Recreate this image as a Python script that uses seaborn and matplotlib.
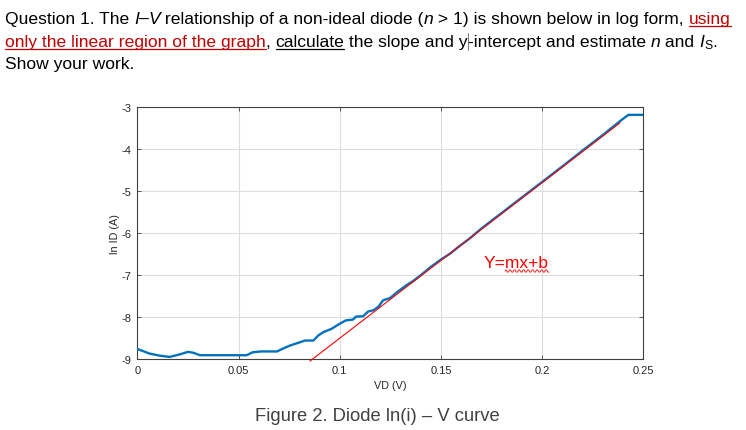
import matplotlib
matplotlib.use("Agg")
import matplotlib.pyplot as plt
from matplotlib.lines import Line2D
import seaborn as sns
import numpy as np
import pandas as pd

# ---------------- data ----------------
vd = [0.0, 0.006, 0.011, 0.016, 0.021, 0.025, 0.0276, 0.031, 0.054, 0.057,
      0.061, 0.069, 0.073, 0.0754, 0.0804, 0.0828, 0.087, 0.0894, 0.0919, 0.096,
      0.100, 0.103, 0.1066, 0.108, 0.1116, 0.114, 0.1165, 0.119, 0.1215, 0.1248,
      0.128, 0.133, 0.136, 0.1396, 0.1446, 0.150, 0.1545, 0.1586, 0.1644, 0.170,
      0.180, 0.190, 0.200, 0.210, 0.220, 0.230, 0.2385, 0.2426, 0.250]
ln_id = [-8.76, -8.87, -8.92, -8.95, -8.89, -8.83, -8.85, -8.91, -8.91, -8.84,
         -8.82, -8.82, -8.73, -8.68, -8.60, -8.56, -8.56, -8.44, -8.36, -8.28,
         -8.16, -8.08, -8.06, -7.99, -7.98, -7.87, -7.84, -7.76, -7.60, -7.55,
         -7.42, -7.24, -7.15, -7.02, -6.82, -6.63, -6.49, -6.33, -6.12, -5.89,
         -5.52, -5.15, -4.78, -4.41, -4.03, -3.66, -3.33, -3.18, -3.18]
fit_v = [0.0853, 0.2385]
fit_ln = [-9.05, -3.37]

x_ticks = [0, 0.05, 0.1, 0.15, 0.2, 0.25]
x_tick_labels = ["0", "0.05", "0.1", "0.15", "0.2", "0.25"]
y_ticks = [-9, -8, -7, -6, -5, -4, -3]
y_tick_labels = ["-9", "-8", "-7", "-6", "-5", "-4", "-3"]

# ---------------- style ----------------
sns.set_theme(style="white")
plt.rcParams["font.family"] = ["Liberation Sans", "DejaVu Sans"]
plt.rcParams["axes.unicode_minus"] = False

W, H = 746, 431
fig = plt.figure(figsize=(W / 100, H / 100), dpi=100)
fig.patch.set_facecolor("white")

def fx(px):
    return px / W

def fy(py):
    return 1 - py / H

# ---------------- chart ----------------
left, right, top, bottom = 137.3, 643.3, 108.3, 360.0
ax = fig.add_axes([fx(left), fy(bottom), fx(right) - fx(left), fy(top) - fy(bottom)])

curve = pd.DataFrame({"VD": vd, "lnID": ln_id})
fit = pd.DataFrame({"VD": fit_v, "lnID": fit_ln})
sns.lineplot(data=curve, x="VD", y="lnID", ax=ax, color="#0072BD", lw=1.7,
             sort=False, estimator=None, zorder=3)
sns.lineplot(data=fit, x="VD", y="lnID", ax=ax, color="#FF0000", lw=0.8,
             sort=False, estimator=None, zorder=4, clip_on=False)

ax.set_xlim(0, 0.25)
ax.set_ylim(-9, -3)
ax.set_xticks(x_ticks)
ax.set_xticklabels(x_tick_labels)
ax.set_yticks(y_ticks)
ax.set_yticklabels(y_tick_labels)
ax.grid(True, color="#DDDDDD", lw=0.8)
ax.set_axisbelow(True)
for s in ax.spines.values():
    s.set_color("#404040")
    s.set_linewidth(0.8)
ax.tick_params(direction="in", length=3, width=0.6, color="#404040",
               labelsize=8, labelcolor="#262626", top=True, right=True,
               bottom=True, left=True, pad=4)
ax.set_xlabel("VD (V)", fontsize=7.8, color="#262626", labelpad=4)
ax.set_ylabel("ln ID (A)", fontsize=7.8, color="#262626", labelpad=1)

# Y=mx+b annotation
fig.text(fx(484), fy(268), "Y=mx+b", color="#FF0000", fontsize=12.5,
         va="baseline", ha="left")
# squiggly underline under mx+b
sx = np.linspace(fx(505), fx(549), 40)
sy = fy(272) + 0.0025 * np.sign(np.sin(np.linspace(0, 40 * np.pi / 2, 40)))
fig.add_artist(Line2D(sx, sy, color="#FF0000", lw=0.6))

# caption
fig.text(fx(377), fy(421), "Figure 2. Diode ln(i) – V curve", color="#404040",
         fontsize=13.2, ha="center", va="baseline")

# ---------------- question text ----------------
renderer = fig.canvas.get_renderer()
FS = 12.6

def width_of(s, **kw):
    t1 = fig.text(0, 0, s + "|", fontsize=kw.get("fontsize", FS),
                  style=kw.get("style", "normal"))
    t2 = fig.text(0, 0, "|", fontsize=kw.get("fontsize", FS))
    w = t1.get_window_extent(renderer).width - t2.get_window_extent(renderer).width
    t1.remove(); t2.remove()
    return w

def draw_line(x0, y0, pieces):
    x = x0
    for p in pieces:
        s = p[0]
        o = p[1] if len(p) > 1 else {}
        fs = o.get("fontsize", FS)
        dy = o.get("dy", 0)
        col = o.get("color", "#000000")
        st = o.get("style", "normal")
        fig.text(fx(x), fy(y0 + dy), s, fontsize=fs, style=st, color=col,
                 ha="left", va="baseline")
        w = width_of(s, fontsize=fs, style=st)
        if o.get("underline"):
            fig.add_artist(Line2D([fx(x), fx(x + w)], [fy(y0 + 2.5)] * 2,
                                  color=col, lw=0.9))
        if o.get("cursor"):
            fig.add_artist(Line2D([fx(x + w + 0.5)] * 2, [fy(y0 - 13), fy(y0 + 4)],
                                  color="#444444", lw=0.5))
        x += w

RED = "#C00000"
draw_line(5, 24, [
    ("Question 1. The ",), ("I", {"style": "italic"}), ("–",),
    ("V", {"style": "italic"}), (" relationship of a non-ideal diode (",),
    ("n", {"style": "italic"}), (" > 1) is shown below in log form, ",),
    ("using", {"color": RED, "underline": True}),
])
draw_line(5, 47, [
    ("only the linear region of the graph", {"color": RED, "underline": True}),
    (", ",), ("calculate", {"underline": True}),
    (" the slope and y", {"cursor": True}), ("-intercept and estimate ",),
    ("n", {"style": "italic"}), (" and ",), ("I", {"style": "italic"}),
    ("S", {"fontsize": FS * 0.7, "dy": 2}), (".",),
])
draw_line(5, 69, [("Show your work.",)])

fig.savefig("out.png", dpi=100, facecolor="white")
